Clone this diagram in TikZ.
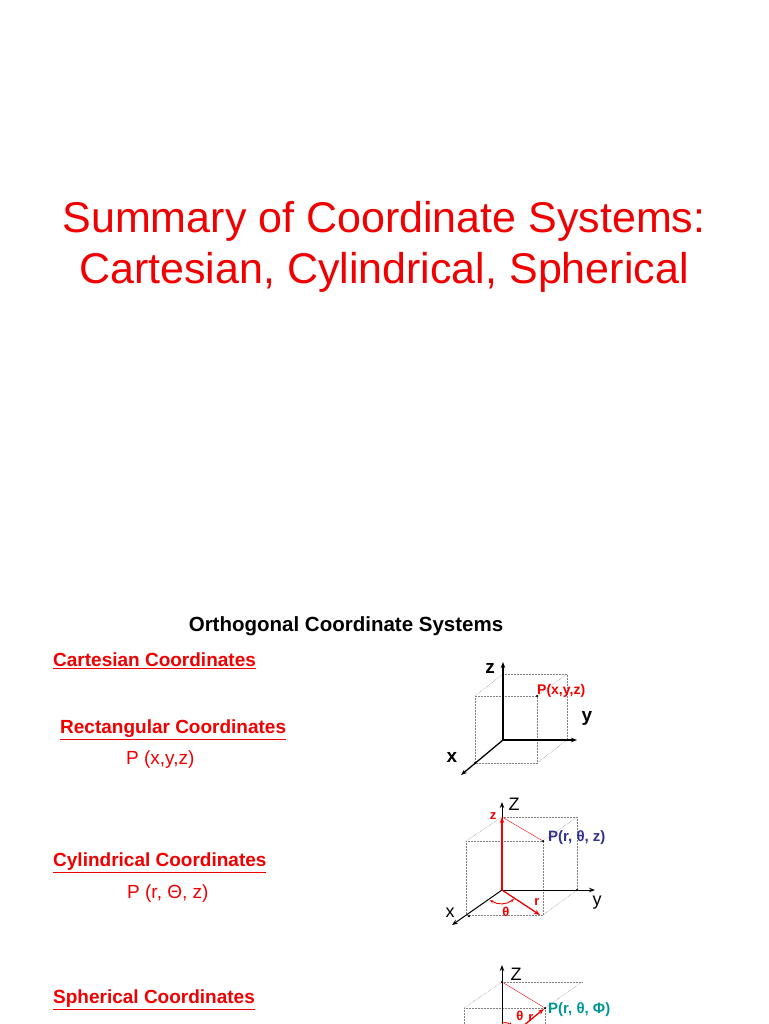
\documentclass[tikz,border=0pt]{standalone}
\usepackage{fontspec}
\setmainfont{Liberation Sans}
\usetikzlibrary{arrows.meta}
\definecolor{tred}{RGB}{240,0,0}
\definecolor{tblue}{RGB}{50,50,150}
\definecolor{tteal}{RGB}{0,150,150}
\begin{document}
\begin{tikzpicture}[x=1pt,y=-1pt,
  box/.style={gray,densely dotted,line width=0.5pt},
  ax/.style={black,line width=1pt,-{Stealth[length=6pt]}},
  rl/.style={tred,line width=1pt,-{Stealth[length=6pt]}},
  hd/.style={font=\bfseries\fontsize{19}{22}\selectfont,text=tred,anchor=west,inner sep=0pt},
  pt/.style={font=\fontsize{19}{22}\selectfont,text=tred,anchor=west,inner sep=0pt},
  lab/.style={font=\bfseries\fontsize{19}{22}\selectfont,inner sep=0pt},
  sm/.style={font=\bfseries\fontsize{13}{15}\selectfont,text=tred,inner sep=0pt},
  dot/.style={circle,fill=black,inner sep=0pt,minimum size=2.5pt}]
\useasboundingbox (0,0) rectangle (768,1024);
\clip (0,0) rectangle (768,1024);
\node[text=tred,font=\fontsize{43}{51}\selectfont,align=center] (title) at (384,247)
  {Summary of Coordinate Systems:\\Cartesian, Cylindrical, Spherical};
\node[font=\bfseries\fontsize{20.5}{24}\selectfont] (orth) at (346,626) {Orthogonal Coordinate Systems};
\node[hd] (h1) at (53,661) {\underline{Cartesian Coordinates}};
\node[hd] (h2) at (60,730) {\underline{Rectangular Coordinates}};
\node[pt] (p1) at (126,760) {P (x,y,z)};
\node[hd] (h3) at (53,863) {\underline{Cylindrical Coordinates}};
\node[pt] (p2) at (127,894) {P (r, Θ, z)};
\node[hd] (h4) at (53,1000) {\underline{Spherical Coordinates}};
% diagram 1
\draw[box] (503,740)--(503,674)--(567,674)--(567,740);
\draw[box] (475,696) rectangle (537,763);
\draw[box] (503,674)--(475,696) (567,674)--(537,696) (567,740)--(537,763);
\coordinate (o1) at (503,740);
\coordinate (z1) at (503,662); \coordinate (y1) at (577,740); \coordinate (x1) at (461,775);
\draw[ax,line width=1.3pt] (o1)--(z1); \draw[ax,line width=1.3pt] (o1)--(y1); \draw[ax,line width=1.3pt] (o1)--(x1);
\node[lab] (lz1) at (490,668) {z};
\node[lab] (ly1) at (587,718) {y};
\node[lab] (lx1) at (452,757) {x};
\node[dot] (P1) at (537,696) {};
\node[dot] at (567,740) {}; \node[dot] at (475,763) {};
\node[lab,text=tred,anchor=south west,font=\bfseries\fontsize{14}{16}\selectfont] (lp1) at (537,698) {P(x,y,z)};
% diagram 2
\draw[box] (502,817)--(577,817)--(577,890);
\draw[box] (466,841) rectangle (543,915);
\draw[box] (502,817)--(466,841) (577,817)--(543,841) (577,890)--(543,915);
\coordinate (o2) at (502,890);
\coordinate (z2) at (502,802); \coordinate (y2) at (595,890); \coordinate (x2) at (452,925);
\draw[ax] (o2)--(z2); \draw[ax] (o2)--(y2); \draw[ax] (o2)--(x2);
\node[font=\fontsize{18}{20}\selectfont] (lz2) at (514,804) {Z};
\node[font=\fontsize{18}{20}\selectfont] (ly2) at (597,903) {y};
\node[font=\fontsize{18}{20}\selectfont] (lx2) at (450,913) {x};
\coordinate (t2) at (502,817);
\node[dot] (P2) at (543,841) {};
\node[dot] at (577,890) {}; \node[dot] at (469,916) {};
\draw[rl,line width=1.6pt] (o2)--(t2);
\draw[tred,line width=0.4pt] (t2)--(P2);
\draw[rl,line width=1.3pt] (o2)--(540,915);
\draw[tred,line width=0.9pt,{Stealth[length=4pt]}-{Stealth[length=4pt]}] (490,900) to[bend right=35] (514,899);
\node[sm] at (493,816) {z};
\node[sm] at (537,902) {r};
\node[sm] at (506,912) {θ};
\node[lab,text=tblue,anchor=west,font=\bfseries\fontsize{15}{17}\selectfont] (lp2) at (548,838) {P(r, θ, z)};
% diagram 3
\draw[box] (502,982)--(582,982);
\draw[box] (464,1008)--(545,1008) (464,1008)--(464,1030) (545,1008)--(545,1030);
\draw[box] (502,982)--(464,1008) (582,982)--(545,1008);
\coordinate (o3) at (502,1040); \coordinate (z3) at (502,965);
\draw[ax] (o3)--(z3);
\node[font=\fontsize{18}{20}\selectfont] (lz3) at (516,974) {Z};
\node[dot] (T3) at (502,982) {};
\node[dot] (P3) at (545,1008) {};
\draw[tred,line width=0.4pt] (T3)--(P3);
\draw[rl,line width=1.3pt] (512,1035)--(P3);
\draw[tred,line width=0.9pt,-{Stealth[length=4pt]}] (502,1023) to[bend left=30] (512,1026);
\node[sm] at (520,1016) {θ};
\node[sm] at (531,1018) {r};
\node[lab,text=tteal,anchor=west,font=\bfseries\fontsize{15}{17}\selectfont] (lp3) at (548,1010) {P(r, θ, Φ)};
\end{tikzpicture}
\end{document}
